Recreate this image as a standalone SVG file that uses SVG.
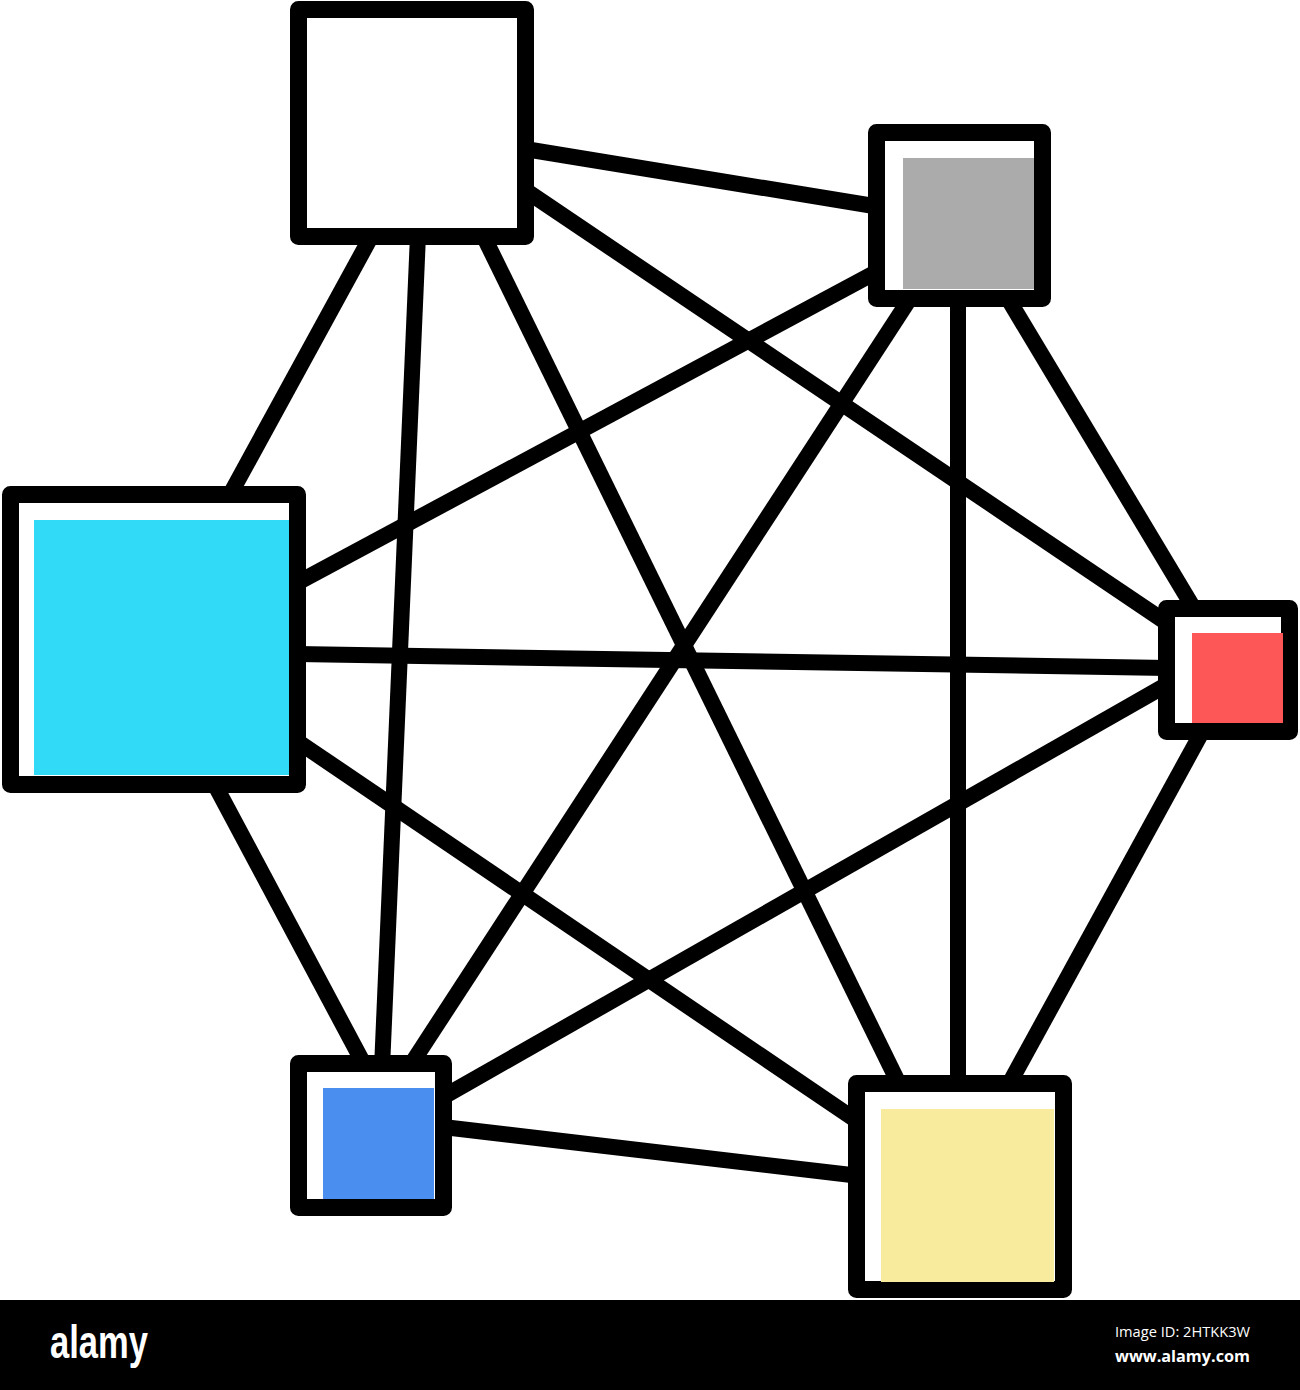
<svg xmlns="http://www.w3.org/2000/svg" width="1300" height="1390" viewBox="0 0 1300 1390">
<style>
.edge{stroke:#000;stroke-width:16;fill:none}
.box{fill:#fff;stroke:#000;stroke-width:17;stroke-linejoin:round}
.ft{fill:#fff;font-family:"Open Sans","DejaVu Sans",sans-serif}
</style>
<rect width="1300" height="1390" fill="#fff"/>
<g id="connectors">
<line class="edge" x1="525" y1="149" x2="880" y2="207"/>
<line class="edge" x1="525" y1="190" x2="1170" y2="625"/>
<line class="edge" x1="372" y1="235" x2="226" y2="502"/>
<line class="edge" x1="418" y1="235" x2="382" y2="1068"/>
<line class="edge" x1="483" y1="235" x2="900" y2="1086"/>
<line class="edge" x1="880" y1="270" x2="297" y2="583"/>
<line class="edge" x1="911" y1="297" x2="410" y2="1066"/>
<line class="edge" x1="958" y1="297" x2="958" y2="1086"/>
<line class="edge" x1="1007" y1="297" x2="1196" y2="612"/>
<line class="edge" x1="297" y1="654" x2="1168" y2="668"/>
<line class="edge" x1="215" y1="785" x2="366" y2="1068"/>
<line class="edge" x1="297" y1="741" x2="860" y2="1123"/>
<line class="edge" x1="1168" y1="684" x2="443" y2="1097"/>
<line class="edge" x1="1202" y1="732" x2="1008" y2="1086"/>
<line class="edge" x1="443" y1="1127" x2="860" y2="1176"/>
</g>
<g id="node-top">
<rect class="box" x="298.5" y="9.5" width="227" height="227"/>
</g>
<g id="node-gray">
<rect class="box" x="876.5" y="132.5" width="166" height="166"/>
<rect x="903" y="158" width="131" height="131" fill="#ababab"/>
</g>
<g id="node-cyan">
<rect class="box" x="10.5" y="494.5" width="287" height="290"/>
<rect x="34" y="520" width="255" height="255" fill="#31daf6"/>
</g>
<g id="node-red">
<rect class="box" x="1166.5" y="608.5" width="123" height="123"/>
<rect x="1192" y="633" width="91" height="90" fill="#fd5857"/>
</g>
<g id="node-blue">
<rect class="box" x="298.5" y="1063.5" width="145" height="144"/>
<rect x="323" y="1088" width="111" height="111" fill="#4a8ff0"/>
</g>
<g id="node-yellow">
<rect class="box" x="856.5" y="1083.5" width="207" height="206"/>
<rect x="881" y="1109" width="173" height="173" fill="#f9eb9d"/>
</g>
<g id="footer">
<rect x="0" y="1300" width="1300" height="90" fill="#000"/>
<text class="ft" x="50" y="1358" font-size="46" font-weight="bold" textLength="98" lengthAdjust="spacingAndGlyphs" style="font-family:'Liberation Sans',sans-serif">alamy</text>
<text class="ft" x="1115" y="1337" font-size="14" textLength="135" lengthAdjust="spacingAndGlyphs">Image ID: 2HTKK3W</text>
<text class="ft" x="1115" y="1362" font-size="16" font-weight="bold" textLength="135" lengthAdjust="spacingAndGlyphs">www.alamy.com</text>
</g>
</svg>
